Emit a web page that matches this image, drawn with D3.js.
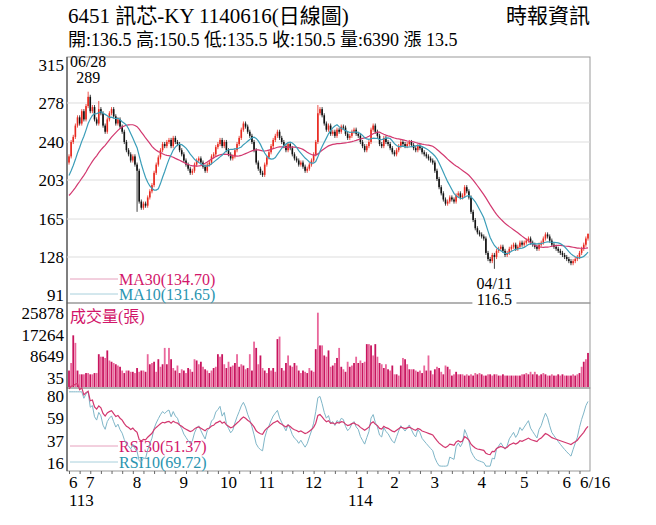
<!DOCTYPE html>
<html lang="zh-Hant">
<head>
  <meta charset="utf-8">
  <script src="https://d3js.org/d3.v7.min.js"></script>
  <style>
    body { margin: 0; background: #fff; }
    text { font-family: "Liberation Serif", "DejaVu Serif", "Noto Sans CJK TC", serif; }
  </style>
</head>
<body>
<script>
  // closes before the window, only used to warm up MA / RSI
  var preCloses = [165,168,170,172,170,174,176,178,175,172,170,174,178,180,182,185,188,186,184,188,192,195,194,198,200,205,210,212,215,220];

  // daily closes 2024/06/17 - 2025/06/16
  var closes = [
    226,240,245,256,264,258,270,262,275,284,
    270,274,262,258,272,268,256,250,262,268,272,265,258,262,255,250,240,232,228,222,226,218,
    212,182,176,180,178,186,192,198,210,218,225,232,238,236,240,242,236,244,240,238,232,228,
    222,218,214,210,212,218,222,224,220,216,212,218,220,226,228,235,238,242,236,240,232,
    228,224,226,232,238,244,252,258,255,250,246,240,232,220,214,210,208,218,
    225,230,236,242,246,250,244,240,236,232,238,234,228,224,222,218,220,216,212,214,218,222,
    228,240,268,272,266,258,252,256,248,250,246,252,250,255,254,248,244,246,250,252,248,246,
    240,236,232,236,240,252,256,250,246,238,236,244,240,238,234,230,
    228,232,236,240,238,236,238,240,237,234,232,236,234,230,228,226,224,222,220,
    212,204,196,190,184,180,182,186,184,182,188,190,186,188,196,192,186,172,164,156,152,150,
    148,146,132,126,124,130,128,134,136,138,134,130,132,136,138,140,136,138,142,140,
    142,144,146,142,140,138,136,140,142,146,150,148,144,140,138,136,134,132,130,128,
    126,124,122,124,126,128,132,136,140,146,150.5
  ];

  var volumes = [
    3000,6000,17000,14000,3000,1500,1500,1500,2000,2000,
    1500,1500,2000,2000,9500,8500,8500,8000,11000,7000,6500,6000,5500,5000,4500,3000,2000,3000,3000,2500,2500,2000,
    4000,2500,3000,3000,2500,9500,5500,6000,6500,2500,7500,4500,5500,12000,5500,12000,7500,4000,3000,5000,2000,3500,
    3000,2000,4000,3500,2500,7500,7000,5500,6500,4500,3500,3000,2000,3000,4000,4500,9500,8500,9500,5500,4000,
    6500,4500,5000,6000,9500,4500,5500,5000,3500,4000,9500,3000,14500,12000,5500,9000,4000,3000,
    2000,4000,3000,4000,2500,15500,16500,4000,3000,6000,9000,5000,4500,6000,5000,3000,2000,3000,2500,2000,4000,3000,
    2500,11500,26000,13000,13000,9000,8500,11000,4500,5000,6000,8000,12000,4500,3500,2500,6500,4500,5000,6000,8500,6000,
    7000,6000,6500,13500,13500,13000,9000,13500,8500,6000,5500,4000,5500,3500,3000,5000,
    1500,1500,1000,5000,8000,7500,5500,3500,3500,3500,3000,2500,3000,2000,5000,3000,9000,3000,1500,
    3500,4500,4000,2500,1500,5000,4500,3500,1000,1500,2500,1500,1500,1500,1000,1500,1000,1500,1000,2000,1500,2000,
    1500,1000,1000,1500,1500,1000,1500,1500,1000,1000,1500,1000,1000,1000,1000,1000,1000,1000,1000,1500,
    1500,2000,1500,2500,1500,2500,1500,1000,1500,2000,1500,1000,1000,1500,1000,1000,1500,1000,1500,1000,
    1000,1000,1000,1500,1000,1500,2000,4500,6500,7500,10000
  ];

  // wick extremes that stand out from the plain bodies
  var wickHighs = [{i: 9, v: 289}, {i: 14, v: 280}, {i: 117, v: 276}, {i: 244, v: 151}];
  var wickLows = [{i: 32, v: 172}, {i: 200, v: 116.5}];

  var priceTicks = [315, 278, 240, 203, 165, 128, 91];
  var volTicks = [25878, 17264, 8649, 35];
  var rsiTicks = [80, 59, 37, 16];
  var monthLabels = ["6", "7", "8", "9", "10", "11", "12", "1", "2", "3", "4", "5", "6", "6/16"];
  var monthIdx = [0, 10, 32, 54, 75, 93, 115, 137, 153, 172, 194, 214, 234, 244];
  var yearLabels = [{i: 0, t: "113"}, {i: 137, t: "114"}];

  var W = 656, H = 525;
  var L = 67, R = 590;
  var svg = d3.select("body").append("svg").attr("width", W).attr("height", H);

  var all = preCloses.concat(closes);
  var P = preCloses.length;
  function ma(n) {
    return closes.map(function(c, i) { return d3.mean(all.slice(P + i - n + 1, P + i + 1)); });
  }
  function rsi(n) {
    var up = 0, dn = 0, out = [];
    for (var k = 1; k < all.length; k++) {
      var d = all[k] - all[k - 1];
      up = (up * (n - 1) + Math.max(d, 0)) / n;
      dn = (dn * (n - 1) + Math.max(-d, 0)) / n;
      if (k >= P) out.push(100 * up / (up + dn));
    }
    return out;
  }
  var ma10 = ma(10), ma30 = ma(30), rsi10 = rsi(10), rsi30 = rsi(30);

  var x = d3.scaleLinear().domain([0, closes.length - 1]).range([L + 2, R - 2]);
  var yP = d3.scaleLinear().domain([91, 315]).range([295, 65]);
  var yV = d3.scaleLinear().domain([35, 25878]).range([378, 313]);
  var yR = d3.scaleLinear().domain([16, 80]).range([463, 396]);

  // panels
  var panels = [[57, 303], [303, 388], [388, 471]];
  panels.forEach(function(p) {
    svg.append("rect").attr("x", L).attr("y", p[0]).attr("width", R - L).attr("height", p[1] - p[0])
      .attr("fill", "none").attr("stroke", "#999");
  });
  svg.append("line").attr("x1", L).attr("x2", L).attr("y1", 57).attr("y2", 471).attr("stroke", "#333");

  // price grid + labels
  var fs = 17;
  priceTicks.forEach(function(t) {
    if (t != 315 && t != 91) svg.append("line").attr("x1", L).attr("x2", R).attr("y1", yP(t)).attr("y2", yP(t)).attr("stroke", "#ddd");
    svg.append("text").attr("x", L - 3).attr("y", yP(t) + 6).attr("text-anchor", "end").attr("font-size", fs).text(t);
  });
  volTicks.forEach(function(t) {
    svg.append("text").attr("x", L - 3).attr("y", yV(t) + 6).attr("text-anchor", "end").attr("font-size", fs).text(t);
  });
  rsiTicks.forEach(function(t) {
    svg.append("text").attr("x", L - 3).attr("y", yR(t) + 6).attr("text-anchor", "end").attr("font-size", fs).text(t);
  });

  // legends
  function legend(y, txt, col, lineCol) {
    svg.append("line").attr("x1", L + 3).attr("x2", 118).attr("y1", y - 6).attr("y2", y - 6).attr("stroke", lineCol);
    svg.append("text").attr("x", 119).attr("y", y).attr("font-size", 16).attr("fill", col).text(txt);
  }
  legend(285, "MA30(134.70)", "#d2166a", "#e6a0bd");
  legend(300, "MA10(131.65)", "#2a94b0", "#a8d0dc");
  legend(452, "RSI30(51.37)", "#d2166a", "#e6a0bd");
  legend(468, "RSI10(69.72)", "#2a94b0", "#a8d0dc");

  // candles
  var cw = 1.6;
  closes.forEach(function(c, i) {
    var o = i == 0 ? all[P - 1] : closes[i - 1];
    var hi = Math.max(o, c) + 2, lo = Math.min(o, c) - 2;
    wickHighs.forEach(function(w) { if (w.i == i) hi = w.v; });
    wickLows.forEach(function(w) { if (w.i == i) lo = w.v; });
    var col = c >= o ? "#e8281e" : "#111";
    svg.append("line").attr("x1", x(i)).attr("x2", x(i)).attr("y1", yP(hi)).attr("y2", yP(lo)).attr("stroke", col).attr("stroke-width", 0.8);
    svg.append("rect").attr("x", x(i) - cw / 2).attr("width", cw)
      .attr("y", yP(Math.max(o, c))).attr("height", Math.max(1, yP(Math.min(o, c)) - yP(Math.max(o, c))))
      .attr("fill", col);
  });

  var line = function(ys, data) {
    return d3.line().x(function(d, i) { return x(i); }).y(function(d) { return ys(d); })(data);
  };
  svg.append("path").attr("d", line(yP, ma30)).attr("fill", "none").attr("stroke", "#d2386f").attr("stroke-width", 1.2);
  svg.append("path").attr("d", line(yP, ma10)).attr("fill", "none").attr("stroke", "#3a9db8").attr("stroke-width", 1.2);

  // volume
  svg.append("text").attr("x", L + 3).attr("y", 322).attr("font-size", 16).attr("fill", "#d2166a").text("成交量(張)");
  volumes.forEach(function(v, i) {
    svg.append("rect").attr("x", x(i) - 0.9).attr("width", 1.8).attr("y", yV(v)).attr("height", 387 - yV(v))
      .attr("fill", i % 2 ? "#e9679b" : "#c8145e");
  });

  // rsi
  svg.append("path").attr("d", line(yR, rsi10.map(function(v) { return Math.max(13, Math.min(84, v)); })))
    .attr("fill", "none").attr("stroke", "#7fb6c8").attr("stroke-width", 1);
  svg.append("path").attr("d", line(yR, rsi30)).attr("fill", "none").attr("stroke", "#d2386f").attr("stroke-width", 1.2);

  // x axis
  svg.append("g").attr("transform", "translate(0,471)")
    .call(d3.axisBottom(x).tickValues(d3.range(0, closes.length, 5)).tickSize(3).tickFormat(""))
    .call(function(g) { g.select(".domain").remove(); g.selectAll("line").attr("stroke", "#666"); });
  monthLabels.forEach(function(m, k) {
    var last = m == "6/16";
    svg.append("text").attr("x", x(monthIdx[k]) + (last ? -8 : 0)).attr("y", 488)
      .attr("text-anchor", k == 0 || last ? "start" : "middle").attr("font-size", 17).text(m);
  });
  yearLabels.forEach(function(d) {
    svg.append("text").attr("x", x(d.i)).attr("y", 506)
      .attr("text-anchor", d.i == 0 ? "start" : "middle").attr("font-size", 17).text(d.t);
  });

  // annotations
  svg.append("text").attr("x", x(9)).attr("y", 67).attr("text-anchor", "middle").attr("font-size", 16).text("06/28");
  svg.append("text").attr("x", x(9)).attr("y", 83).attr("text-anchor", "middle").attr("font-size", 16).text("289");
  svg.append("text").attr("x", x(200)).attr("y", 289).attr("text-anchor", "middle").attr("font-size", 16).text("04/11");
  svg.append("rect").attr("x", x(200) - 22).attr("y", 292).attr("width", 44).attr("height", 14).attr("fill", "#fff");
  svg.append("text").attr("x", x(200)).attr("y", 305).attr("text-anchor", "middle").attr("font-size", 16).text("116.5");

  // header
  svg.append("text").attr("x", 68).attr("y", 23).attr("font-size", 21).text("6451  訊芯-KY 1140616(日線圖)");
  svg.append("text").attr("x", 590).attr("y", 23).attr("text-anchor", "end").attr("font-size", 21).text("時報資訊");
  svg.append("text").attr("x", 68).attr("y", 46).attr("font-size", 18).text("開:136.5 高:150.5 低:135.5 收:150.5 量:6390 漲 13.5");
</script>
</body>
</html>
